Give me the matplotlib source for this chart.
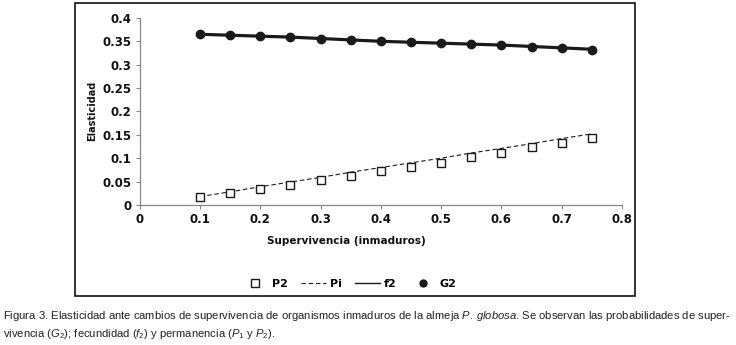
import matplotlib
matplotlib.use("Agg")
import matplotlib.pyplot as plt
from matplotlib.lines import Line2D
from matplotlib.patches import Rectangle

# survival of immature organisms
supervivencia = [0.10, 0.15, 0.20, 0.25, 0.30, 0.35, 0.40, 0.45, 0.50, 0.55, 0.60, 0.65, 0.70, 0.75]
G2 = [0.365, 0.363, 0.361, 0.359, 0.356, 0.352, 0.350, 0.349, 0.346, 0.344, 0.342, 0.338, 0.336, 0.332]
f2 = [0.365, 0.363, 0.361, 0.359, 0.356, 0.353, 0.350, 0.348, 0.346, 0.344, 0.342, 0.339, 0.336, 0.333]
P2 = [0.016, 0.026, 0.034, 0.043, 0.053, 0.062, 0.072, 0.082, 0.090, 0.103, 0.112, 0.123, 0.133, 0.144]
Pi = [0.018, 0.028, 0.039, 0.049, 0.059, 0.070, 0.080, 0.090, 0.100, 0.111, 0.121, 0.131, 0.142, 0.152]

xticks = [0, 0.1, 0.2, 0.3, 0.4, 0.5, 0.6, 0.7, 0.8]
xticklabels = ["0", "0.1", "0.2", "0.3", "0.4", "0.5", "0.6", "0.7", "0.8"]
yticks = [0, 0.05, 0.1, 0.15, 0.2, 0.25, 0.3, 0.35, 0.4]
yticklabels = ["0", "0.05", "0.1", "0.15", "0.2", "0.25", "0.3", "0.35", "0.4"]

cap_family = "Liberation Sans"
plt.rcParams['mathtext.fontset'] = 'custom'
plt.rcParams['mathtext.rm'] = cap_family
plt.rcParams['mathtext.it'] = cap_family + ':italic'

fig = plt.figure(figsize=(7.36, 3.45), dpi=100)
ax = fig.add_axes([0.190, 0.406, 0.655, 0.542])

ink = "#1a1a1a"
ax.plot(supervivencia, f2, color=ink, lw=2.3, zorder=2)
ax.plot(supervivencia, G2, ls="none", marker="o", ms=6, color=ink, zorder=3)
ax.plot(supervivencia, Pi, color=ink, lw=0.8, ls=(0, (4, 2.5)), zorder=2)
ax.plot(supervivencia, P2, ls="none", marker="s", ms=6, mfc="white", mec=ink, mew=1.0, zorder=3)

ax.set_xlim(0, 0.8)
ax.set_ylim(0, 0.4)
ax.set_xticks(xticks)
ax.set_xticklabels(xticklabels)
ax.set_yticks(yticks)
ax.set_yticklabels(yticklabels)
for s in ["top", "right"]:
    ax.spines[s].set_visible(False)
for s in ["left", "bottom"]:
    ax.spines[s].set_color("#888888")
    ax.spines[s].set_linewidth(0.9)
ax.tick_params(direction="out", length=3, width=0.8, color="#888888",
               labelsize=8.5, labelcolor="#111111", pad=3)
for lab in ax.get_xticklabels() + ax.get_yticklabels():
    lab.set_fontweight("bold")

fig.text(0.125, 0.68, "Elasticidad", rotation=90, ha="center", va="center",
         fontsize=7, fontweight="bold", color="#111111")
fig.text(0.47, 0.30, "Supervivencia (inmaduros)", ha="center", va="center",
         fontsize=7.5, fontweight="bold", color="#111111")

handles = [
    Line2D([], [], ls="none", marker="s", ms=6, mfc="white", mec=ink, mew=1.0),
    Line2D([], [], color=ink, lw=0.8, ls=(0, (4, 2.5))),
    Line2D([], [], color=ink, lw=1.0),
    Line2D([], [], ls="none", marker="o", ms=5, color=ink),
]
leg = fig.legend(handles, ["P2", "Pi", "f2", "G2"], loc="center",
                 bbox_to_anchor=(0.475, 0.177), ncol=4, frameon=False,
                 handlelength=2.2, handletextpad=0.4, columnspacing=1.2,
                 prop={"weight": "bold", "size": 8})

fig.add_artist(Rectangle((0.102, 0.142), 0.761, 0.849, transform=fig.transFigure,
                         fill=False, ec="#111111", lw=1.2))

cap1 = fig.text(0.004, 0.085,
                "Figura 3. Elasticidad ante cambios de supervivencia de organismos inmaduros de la almeja "
                r"$\mathit{P.}\,\mathit{globosa}$. Se observan las probabilidades de super-",
                ha="left", va="center", fontsize=8.6, family=cap_family, color="#222222")
cap2 = fig.text(0.004, 0.033,
                r"vivencia ($\mathit{G}_{2}$); fecundidad ($\mathit{f}_{2}$) y permanencia "
                r"($\mathit{P}_{1}$ y $\mathit{P}_{2}$).",
                ha="left", va="center", fontsize=8.6, family=cap_family, color="#222222")

# shrink the caption so its first line spans the figure width like the original
fig.canvas.draw()
w = cap1.get_window_extent(renderer=fig.canvas.get_renderer()).width
size = 8.6 * 724.0 / w
cap1.set_fontsize(size)
cap2.set_fontsize(size)

fig.savefig("out.png", dpi=100)
